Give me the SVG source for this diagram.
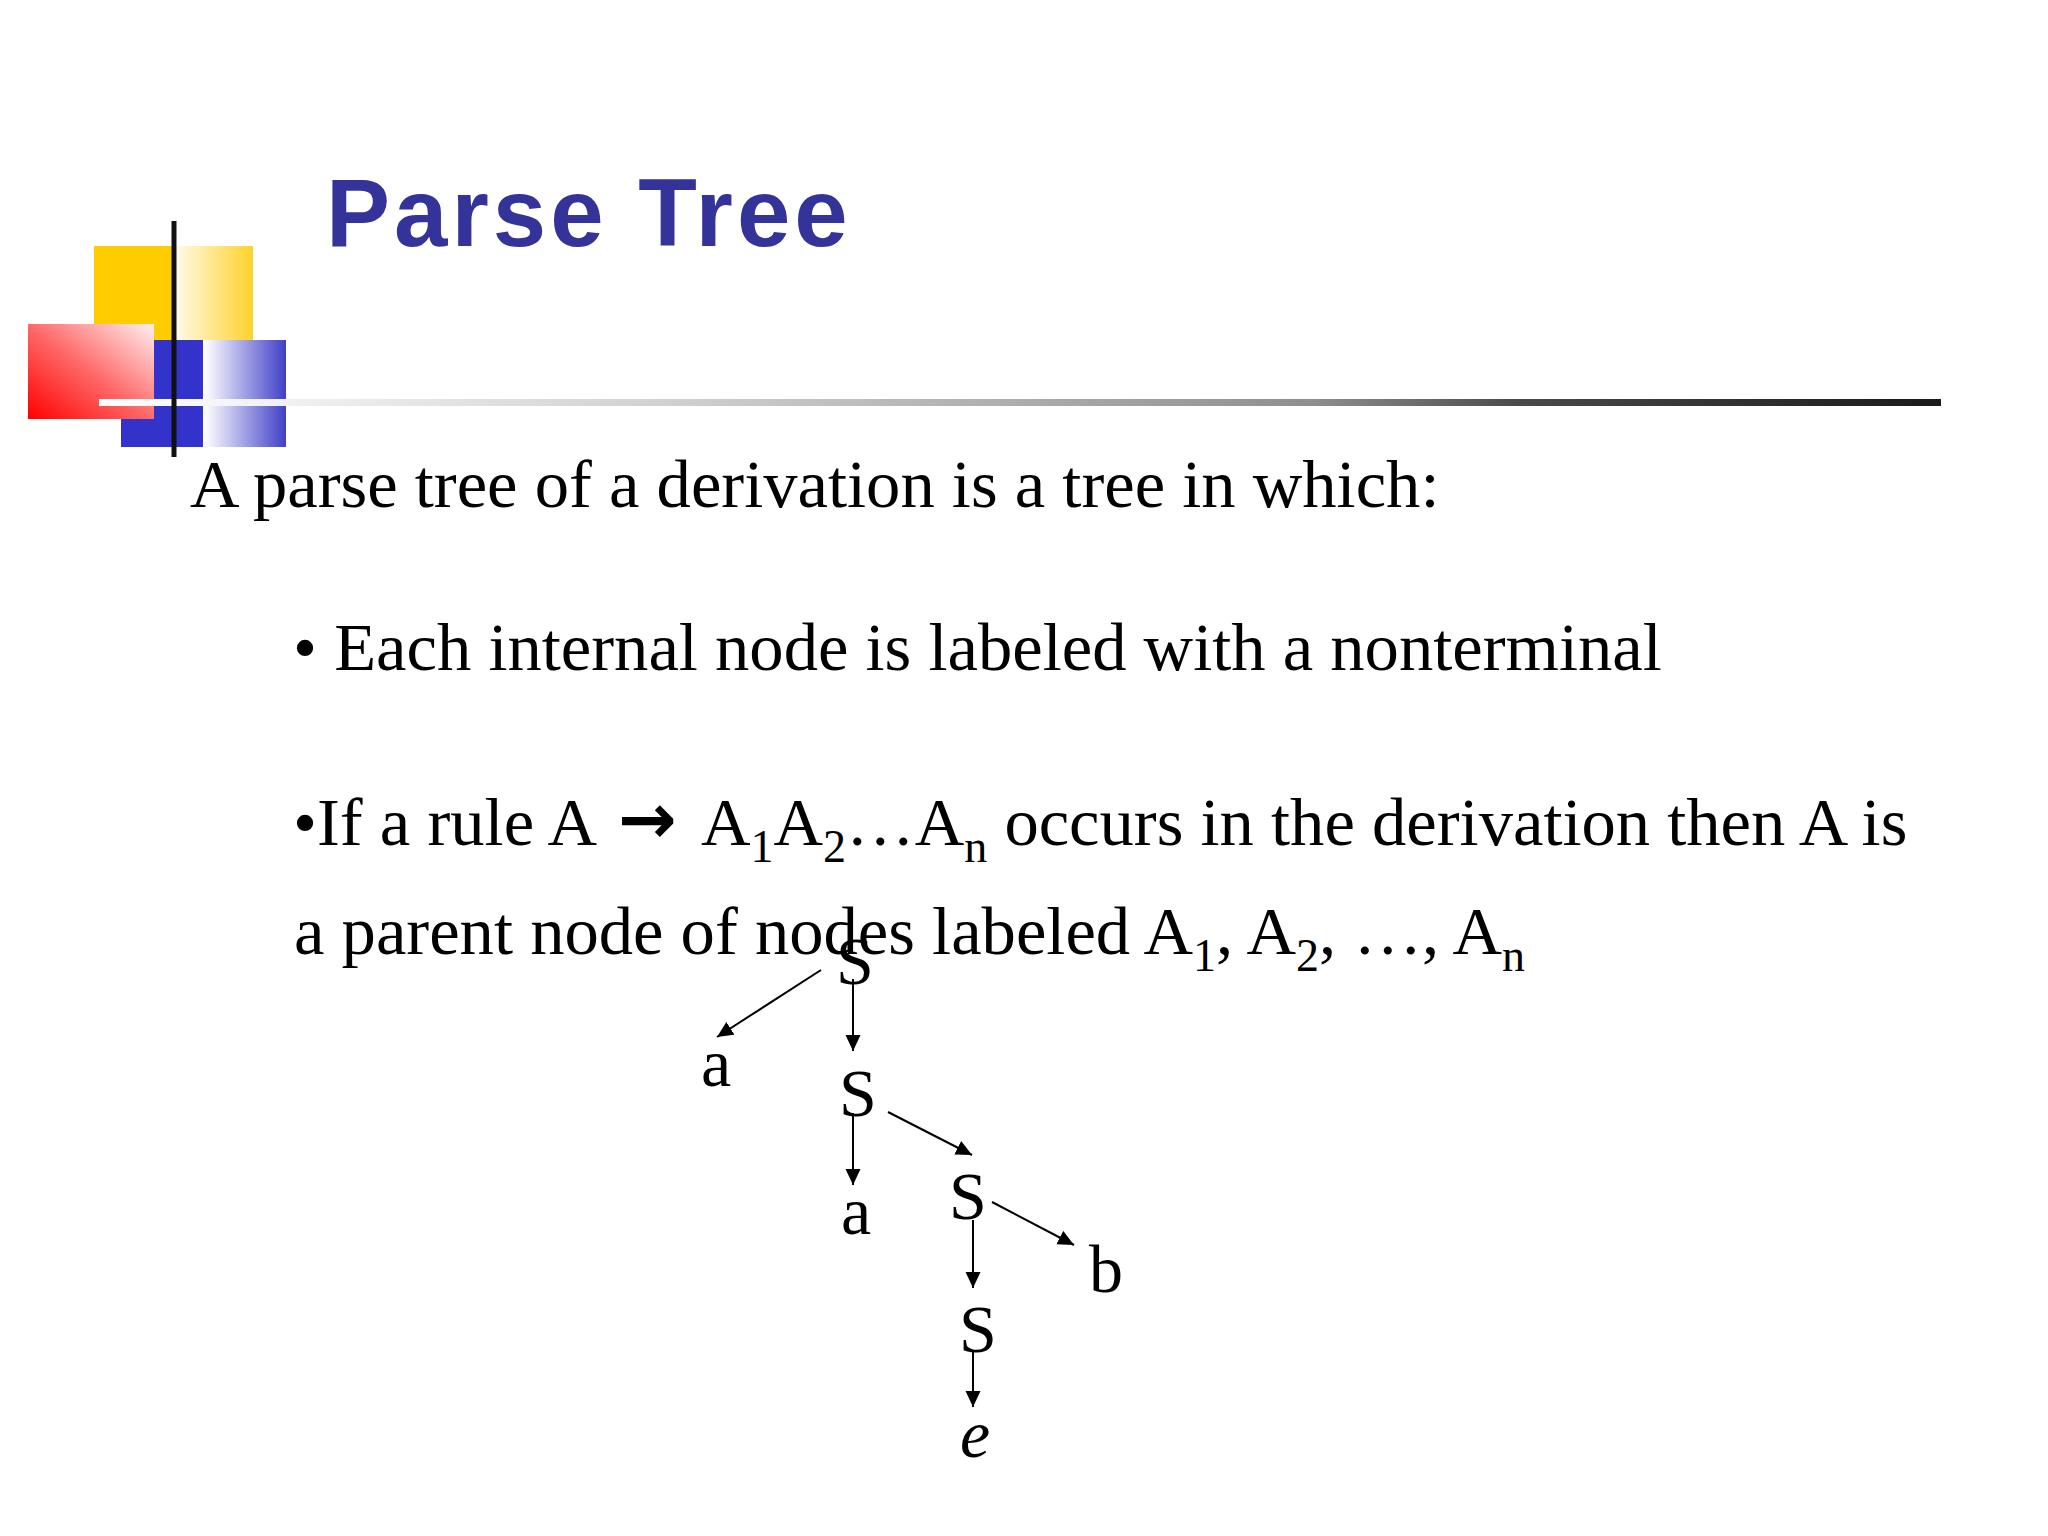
<svg xmlns="http://www.w3.org/2000/svg" width="2048" height="1536" viewBox="0 0 2048 1536">
<defs>
<style>
.title{font-family:"Liberation Sans",Arial,sans-serif;font-weight:bold;font-size:96px;fill:#333399;letter-spacing:4px}
.body{font-family:"Liberation Serif","Times New Roman",serif;font-size:68.6px;fill:#000}
.sub{font-size:46px}
.lbl{font-family:"Liberation Serif","Times New Roman",serif;font-size:68px;fill:#000;text-anchor:middle}
.conn{stroke:#000;stroke-width:2;fill:none;marker-end:url(#ah)}
</style>
<marker id="ah" markerUnits="userSpaceOnUse" markerWidth="18" markerHeight="18" refX="16" refY="8" orient="auto">
<path d="M0,0.5 L16,8 L0,15.5 z" fill="#000"/>
</marker>
<linearGradient id="gYellow" x1="0" y1="0" x2="1" y2="0">
<stop offset="0" stop-color="#FFCC00"/>
<stop offset="0.49" stop-color="#FFCC00"/>
<stop offset="0.49" stop-color="#FFFCF0"/>
<stop offset="1" stop-color="#FFD22A"/>
</linearGradient>
<linearGradient id="gBlue" x1="0" y1="0" x2="1" y2="0">
<stop offset="0" stop-color="#3333CC"/>
<stop offset="0.5" stop-color="#3333CC"/>
<stop offset="0.5" stop-color="#FFFFFF"/>
<stop offset="0.53" stop-color="#F6F6FC"/>
<stop offset="1" stop-color="#4040C8"/>
</linearGradient>
<linearGradient id="gRed" x1="0" y1="1" x2="1" y2="0">
<stop offset="0" stop-color="#FF0000"/>
<stop offset="0.5" stop-color="#FF6A6A"/>
<stop offset="1" stop-color="#FFF0F0"/>
</linearGradient>
<linearGradient id="gBar" gradientUnits="userSpaceOnUse" x1="99" y1="0" x2="1941" y2="0">
<stop offset="0" stop-color="#FFFFFF"/>
<stop offset="0.105" stop-color="#F0F0F0"/>
<stop offset="0.3" stop-color="#D2D2D2"/>
<stop offset="0.66" stop-color="#8E8E8E"/>
<stop offset="0.77" stop-color="#4A4A4A"/>
<stop offset="1" stop-color="#1A1A1A"/>
</linearGradient>
</defs>
<rect width="2048" height="1536" fill="#FFFFFF"/>
<g id="logo">
<rect x="94" y="246" width="159" height="94" fill="url(#gYellow)"/>
<rect x="121" y="340" width="165" height="107" fill="url(#gBlue)"/>
<rect x="28" y="324" width="126" height="95" fill="url(#gRed)"/>
<rect x="99" y="399" width="1842" height="7" fill="url(#gBar)"/>
<rect x="171.5" y="221" width="5" height="236" fill="#111"/>
</g>
<g id="title"><text class="title" x="326" y="246">Parse Tree</text></g>
<g id="body">
<text class="body" x="190" y="507">A parse tree of a derivation is a tree in which:</text>
<text class="body" x="293" y="670" font-size="68.2">• Each internal node is labeled with a nonterminal</text>
<text class="body" x="293" y="845">•If a rule A <tspan x="618" y="843" font-family="DejaVu Sans" font-weight="bold" font-size="70">→</tspan><tspan x="701" y="845">A</tspan><tspan class="sub" dy="17">1</tspan><tspan dy="-17">A</tspan><tspan class="sub" dy="17">2</tspan><tspan dy="-17">…A</tspan><tspan class="sub" dy="17">n</tspan><tspan dy="-17"> occurs in the derivation then A is</tspan></text>
<text class="body" x="294" y="954">a parent node of nodes labeled A<tspan class="sub" dy="17">1</tspan><tspan dy="-17">, A</tspan><tspan class="sub" dy="17">2</tspan><tspan dy="-17">, …, A</tspan><tspan class="sub" dy="17">n</tspan></text>
</g>
<g id="connectors">
<line class="conn" x1="821" y1="970" x2="717" y2="1037"/>
<line class="conn" x1="853" y1="979" x2="853" y2="1051"/>
<line class="conn" x1="853" y1="1113" x2="853" y2="1185"/>
<line class="conn" x1="888" y1="1112" x2="972" y2="1155"/>
<line class="conn" x1="992" y1="1202" x2="1074" y2="1245"/>
<line class="conn" x1="973" y1="1220" x2="973" y2="1288"/>
<line class="conn" x1="973" y1="1352" x2="973" y2="1407"/>
</g>
<g id="node-S1"><text class="lbl" x="855" y="984">S</text></g>
<g id="node-a1"><text class="lbl" x="716" y="1086">a</text></g>
<g id="node-S2"><text class="lbl" x="858" y="1116">S</text></g>
<g id="node-a2"><text class="lbl" x="856" y="1234">a</text></g>
<g id="node-S3"><text class="lbl" x="968" y="1219">S</text></g>
<g id="node-b"><text class="lbl" x="1106" y="1292">b</text></g>
<g id="node-S4"><text class="lbl" x="978" y="1352">S</text></g>
<g id="node-e"><text class="lbl" x="975" y="1457" font-style="italic">e</text></g>
</svg>
